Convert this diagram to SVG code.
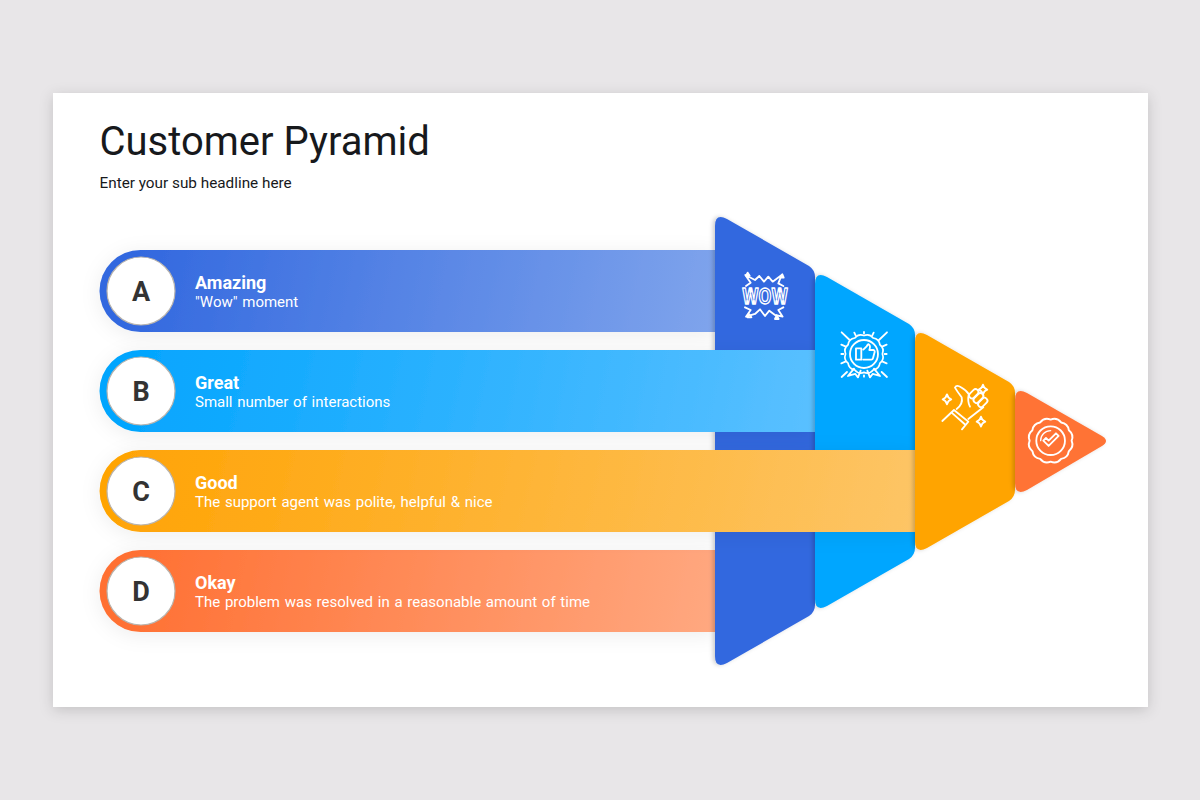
<svg xmlns="http://www.w3.org/2000/svg" width="1200" height="800" viewBox="0 0 1200 800">
<style>
text{font-family:Roboto,"Liberation Sans",sans-serif}
.head{font-size:18px;font-weight:700;fill:#fff}
.sub{font-size:15px;fill:#fff;word-spacing:1px}
.let{font-size:27px;font-weight:700;fill:#333;text-anchor:middle}
.disc{fill:#fff;stroke:#b9b4ae;stroke-width:1.2}
.ic{fill:none;stroke:#fff;stroke-width:5.5;stroke-linecap:round;stroke-linejoin:round}
</style>
<defs>
<linearGradient id="ga" gradientUnits="userSpaceOnUse" x1="130" y1="291" x2="715" y2="291" gradientTransform="rotate(12 400 291)"><stop offset="0" stop-color="#3268df"/><stop offset="1" stop-color="#7fa4ec"/></linearGradient>
<linearGradient id="gb" gradientUnits="userSpaceOnUse" x1="130" y1="391" x2="815" y2="391" gradientTransform="rotate(12 450 391)"><stop offset="0" stop-color="#03a5fe"/><stop offset="1" stop-color="#5ac0ff"/></linearGradient>
<linearGradient id="gc" gradientUnits="userSpaceOnUse" x1="130" y1="491" x2="915" y2="491" gradientTransform="rotate(12 500 491)"><stop offset="0" stop-color="#ffa406"/><stop offset="1" stop-color="#fdc566"/></linearGradient>
<linearGradient id="gd" gradientUnits="userSpaceOnUse" x1="130" y1="591" x2="715" y2="591" gradientTransform="rotate(12 400 591)"><stop offset="0" stop-color="#ff7033"/><stop offset="1" stop-color="#ffa880"/></linearGradient>
<filter id="card" x="-5%" y="-5%" width="110%" height="112%"><feDropShadow dx="0" dy="3" stdDeviation="7" flood-color="#000" flood-opacity=".16"/></filter>
<filter id="bar" x="-5%" y="-30%" width="110%" height="160%"><feDropShadow dx="0" dy="3" stdDeviation="10" flood-color="#000" flood-opacity=".07"/></filter>
<filter id="tier" x="-15%" y="-5%" width="130%" height="110%"><feDropShadow dx="-2" dy="0" stdDeviation="2" flood-color="#000" flood-opacity=".2"/></filter>
<path id="seal" d="M60 0A26 26 0 0 1 52 30A26 26 0 0 1 30 52A26 26 0 0 1 0 60A26 26 0 0 1 -30 52A26 26 0 0 1 -52 30A26 26 0 0 1 -60 0A26 26 0 0 1 -52 -30A26 26 0 0 1 -30 -52A26 26 0 0 1 0 -60A26 26 0 0 1 30 -52A26 26 0 0 1 52 -30A26 26 0 0 1 60 0Z"/>
<path id="spark" d="M0 -15Q3 -3 13 0Q3 3 0 15Q-3 3 -13 0Q-3 -3 0 -15Z"/>
</defs>
<rect width="1200" height="800" fill="#e8e6e8"/>
<rect id="slide" x="53" y="93" width="1095" height="614" fill="#fff" filter="url(#card)"/>
<g id="title">
<text x="99.500" y="155" font-size="40" fill="#17191c">Customer Pyramid</text>
<text x="99.500" y="187.500" font-size="15.300" fill="#17191c">Enter your sub headline here</text>
</g>
<g id="row-a">
<path d="M140.500 250H715V332H140.500A41 41 0 0 1 140.500 250Z" fill="url(#ga)" filter="url(#bar)"/>
<circle class="disc" cx="141" cy="291" r="34"/>
<text class="let" x="141" y="300.500">A</text>
<text class="head" x="195" y="288.500">Amazing</text>
<text class="sub" x="195" y="307">"Wow" moment</text>
</g>
<g id="row-d">
<path d="M140.500 550H715V632H140.500A41 41 0 0 1 140.500 550Z" fill="url(#gd)" filter="url(#bar)"/>
<circle class="disc" cx="141" cy="591" r="34"/>
<text class="let" x="141" y="600.500">D</text>
<text class="head" x="195" y="588.500">Okay</text>
<text class="sub" x="195" y="607">The problem was resolved in a reasonable amount of time</text>
</g>
<g id="tier-a">
<path d="M715 226Q715 213 727 219L809 266Q815 270 815 277V605Q815 612 809 616L727 663Q715 669 715 656Z" fill="#3267df" filter="url(#tier)"/>
<g class="ic" transform="translate(700 200) scale(.3333)">
<text x="195" y="312" font-size="64" font-weight="700" text-anchor="middle" textLength="136" lengthAdjust="spacingAndGlyphs" fill="none" stroke="#fff" stroke-width="4">WOW</text>
<path d="M138 258L152 248L136 225L165 240L178 228L192 245L205 230L218 245L245 225L235 250L250 258"/>
<path d="M135 322L152 330L138 350L165 342L180 328L195 348L208 332L225 345L248 350L235 330L250 322"/>
<path d="M143 218l6 9h-11zM247 223l4 10l-10 0zM148 343l6 9h-12zM230 346l6 11l-11 0z"/>
</g>
</g>
<g id="row-b">
<path d="M140.500 350H815V432H140.500A41 41 0 0 1 140.500 350Z" fill="url(#gb)" filter="url(#bar)"/>
<circle class="disc" cx="141" cy="391" r="34"/>
<text class="let" x="141" y="400.500">B</text>
<text class="head" x="195" y="388.500">Great</text>
<text class="sub" x="195" y="407">Small number of interactions</text>
</g>
<g id="tier-b">
<path d="M815 284Q815 271 827 277L909 324Q915 328 915 335V548Q915 555 909 559L827 606Q815 612 815 599Z" fill="#00a6ff" filter="url(#tier)"/>
<g class="ic" transform="translate(700 200) scale(.3333)">
<use href="#seal" transform="translate(492 462) scale(.92)"/>
<circle cx="492" cy="462" r="42"/>
<path d="M468 445h16v34h-16zM490 449l10 -10q5 -8 6 -6q7 3 2 17h12q5 1 4 6l-5 19q-1 4 -5 4h-24"/>
<path d="M462 506l-18 22l22 -6l8 10l8 -20M522 506l18 22l-22 -6l-8 10l-8 -20"/>
<path d="M425 397L449 420M561 397L537 420M425 531L441 516M561 531L545 516M492 396v4M492 526v4M463 398l4 8M521 398l-4 8M424 434l12 5M560 434l-12 5M424 490l12 -5M560 490l-12 -5M424 462h6M560 462h-6"/>
</g>
</g>
<g id="row-c">
<path d="M140.500 450H915V532H140.500A41 41 0 0 1 140.500 450Z" fill="url(#gc)" filter="url(#bar)"/>
<circle class="disc" cx="141" cy="491" r="34"/>
<text class="let" x="141" y="500.500">C</text>
<text class="head" x="195" y="488.500">Good</text>
<text class="sub" x="195" y="507">The support agent was polite, helpful &amp; nice</text>
</g>
<g id="tier-c">
<path d="M915 342Q915 329 927 335L1009 382Q1015 386 1015 393V490Q1015 497 1009 501L927 548Q915 554 915 541Z" fill="#ffa406" filter="url(#tier)"/>
<g class="ic" transform="translate(700 200) scale(.3333)">
<path d="M727 663L762 630L805 665L797 675L755 638M797 675L786 688"/>
<path d="M770 627Q790 612 785 592Q772 575 765 563Q770 553 783 562Q800 572 806 582"/>
<rect x="805" y="573" width="32" height="17" rx="8" transform="rotate(-45 821 581)"/>
<rect x="818" y="586" width="34" height="17" rx="8" transform="rotate(-45 835 594)"/>
<rect x="832" y="599" width="32" height="17" rx="8" transform="rotate(-45 848 607)"/>
<path d="M850 622L805 657M806 585Q802 605 810 620"/>
<use href="#spark" transform="translate(741 598)"/>
<use href="#spark" transform="translate(849 569)"/>
<use href="#spark" transform="translate(843 665)"/>
</g>
</g>
<g id="tier-d">
<path d="M1015 400Q1015 387 1027 393L1102 436Q1110 441 1102 446L1027 490Q1015 496 1015 483Z" fill="#ff7336" filter="url(#tier)"/>
<g class="ic" transform="translate(700 200) scale(.3333)">
<use href="#seal" transform="translate(1052 722) scale(1.05)"/>
<circle cx="1052" cy="722" r="43"/>
<path d="M1022 722A30 30 0 0 1 1052 692" stroke-width="4"/>
<path d="M1030 722L1046 738L1076 708L1068 700L1046 722L1038 714Z"/>
</g>
</g>
</svg>
